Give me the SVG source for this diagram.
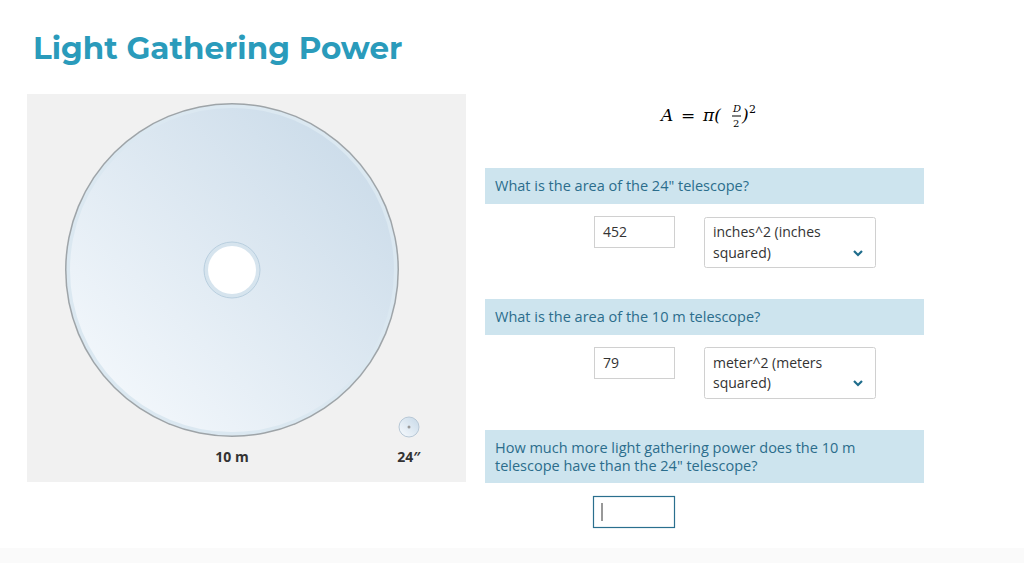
<svg xmlns="http://www.w3.org/2000/svg" width="1024" height="563" viewBox="0 0 1024 563">
<defs>
<linearGradient id="mg" x1="0" y1="1" x2="1" y2="0"><stop offset="0" stop-color="#f8fbfe"/><stop offset="1" stop-color="#c6d8e7"/></linearGradient>
<style>
.s{font-family:Roboto,"Open Sans",sans-serif;}
.q{font-family:"Open Sans",sans-serif;font-size:14.5px;fill:#2b6d8c;}
.qb{fill:#cde4ee;}
.in{fill:#fff;stroke:#d0d0d0;stroke-width:1;}
.t{font-family:"Open Sans",sans-serif;font-size:14px;fill:#333;}
.lb{font-family:"Open Sans",sans-serif;font-size:14px;font-weight:bold;fill:#333;}
.ch{fill:none;stroke:#1f6d8c;stroke-width:2.2;}
</style>
</defs>
<rect width="1024" height="563" fill="#fff"/>
<rect y="548" width="1024" height="15" fill="#fafafa"/>
<text x="33" y="59" font-family="Montserrat,'Open Sans',sans-serif" font-size="31" font-weight="bold" fill="#2a9bbb">Light Gathering Power</text>
<g id="panel">
<rect x="27" y="94" width="439" height="388" fill="#f1f1f1"/>
<circle cx="232" cy="270" r="167" fill="#9ea4a8"/>
<circle cx="232" cy="270" r="165.5" fill="#dbe8f1"/>
<circle cx="232" cy="270" r="162" fill="url(#mg)"/>
<circle cx="232" cy="270" r="28" fill="#d6e4ee" stroke="#b9cfdf"/>
<circle cx="232" cy="270" r="24" fill="#fff"/>
<circle cx="409" cy="427" r="10" fill="url(#mg)" stroke="#b8c8d6"/>
<circle cx="409" cy="427" r="1.5" fill="#999"/>
<text x="232" y="462" class="lb" text-anchor="middle">10 m</text>
<text x="409" y="462" class="lb" text-anchor="middle">24″</text>
</g>
<g id="formula" font-family="'DejaVu Serif',serif" font-style="italic" fill="#000">
<text x="661" y="121" font-size="17">A</text>
<text x="681" y="121" font-size="17" font-style="normal">=</text>
<text x="703" y="121" font-size="17">π(</text>
<text x="733" y="112" font-size="10">D</text>
<line x1="732" y1="116" x2="741" y2="116" stroke="#000" stroke-width="1"/>
<text x="733" y="127" font-size="10" font-style="normal">2</text>
<text x="742" y="121" font-size="17">)</text>
<text x="749" y="113" font-size="11" font-style="normal">2</text>
</g>
<g id="q1">
<rect x="485" y="168" width="439" height="36" class="qb"/>
<text x="495" y="191" class="q">What is the area of the 24" telescope?</text>
<rect x="594.5" y="216.5" width="80" height="31" class="in"/>
<text x="603" y="237" class="t">452</text>
<rect x="704.5" y="217.5" width="171" height="50" rx="2" class="in"/>
<text x="713" y="237" class="t">inches^2 (inches</text>
<text x="713" y="258" class="t">squared)</text>
<polyline points="854,251 858,255 862,251" class="ch"/>
</g>
<g id="q2">
<rect x="485" y="299" width="439" height="36" class="qb"/>
<text x="495" y="322" class="q">What is the area of the 10 m telescope?</text>
<rect x="594.5" y="347.5" width="80" height="31" class="in"/>
<text x="603" y="368" class="t">79</text>
<rect x="704.5" y="347.5" width="171" height="51" rx="2" class="in"/>
<text x="713" y="368" class="t">meter^2 (meters</text>
<text x="713" y="388" class="t">squared)</text>
<polyline points="854,381 858,385 862,381" class="ch"/>
</g>
<g id="q3">
<rect x="485" y="430" width="439" height="53" class="qb"/>
<text x="495" y="453" class="q">How much more light gathering power does the 10 m</text>
<text x="495" y="471" class="q">telescope have than the 24" telescope?</text>
<rect x="593.5" y="496.5" width="81" height="31" fill="#fff" stroke="#2a6f8e" stroke-width="1.2"/>
<line x1="602" y1="503" x2="602" y2="521" stroke="#333" stroke-width="1"/>
</g>
</svg>
